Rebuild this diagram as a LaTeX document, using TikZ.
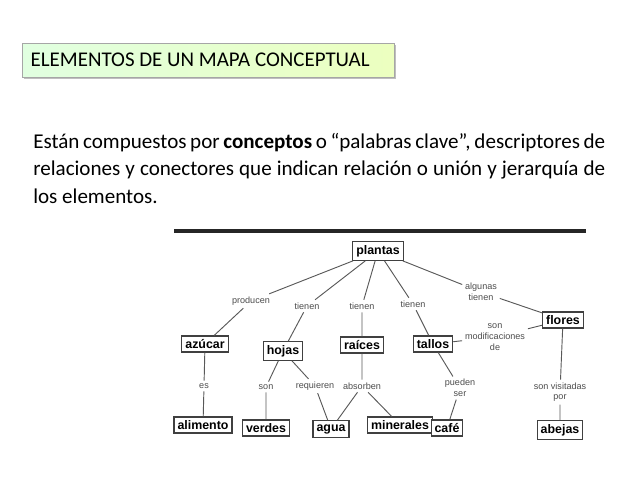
\documentclass[tikz,border=0pt]{standalone}
\usepackage{fontspec}
\setmainfont{Carlito}
\newfontfamily\mapfont{Liberation Sans}
\begin{document}
\begin{tikzpicture}[x=0.75pt,y=-0.75pt,
 concept/.style={draw=black!75,line width=0.9pt,fill=white,font=\mapfont\bfseries\fontsize{9.3}{11}\selectfont,inner sep=2.6pt},
 lbl/.style={font=\mapfont\fontsize{6.8}{8}\selectfont,text=black!70,align=center,inner sep=2pt},
 con/.style={draw=black!65,line width=0.7pt}]
\useasboundingbox (0,0) rectangle (638,479);
\fill[black!25] (24,45) rectangle (396,79);
\node[draw=black!35,left color=green!12!white,right color=green!30!yellow!25!white,minimum width=372*0.75pt,minimum height=34*0.75pt,anchor=north west,inner sep=0pt] (title) at (22,43) {};
\node[anchor=west,font=\fontsize{15.7}{18}\selectfont] (tt) at (26,60) {ELEMENTOS DE UN MAPA CONCEPTUAL};
\node[anchor=north west,text width=572*0.75pt,align=justify,inner sep=0pt,font=\fontsize{15.8}{20.5}\selectfont] (para) at (33,133)
 {\hyphenpenalty=10000\exhyphenpenalty=10000 Están compuestos por \textbf{conceptos} o “palabras clave”, descriptores de relaciones y conectores que indican relación o unión y jerarquía de los elementos.};
\coordinate (b1) at (174,231); \coordinate (b2) at (586,231);
\draw[line width=3pt,black!85] (b1) -- (b2);
% concepts
\node[concept] (pl) at (378,251) {plantas};
\node[concept] (az) at (205,344) {azúcar};
\node[concept] (ho) at (283,351) {hojas};
\node[concept] (ra) at (362,345) {raíces};
\node[concept] (ta) at (433,344) {tallos};
\node[concept] (fl) at (563,320) {flores};
\node[concept] (al) at (203,425) {alimento};
\node[concept] (ve) at (266,428) {verdes};
\node[concept] (ag) at (331,429) {agua};
\node[concept] (mi) at (400,425) {minerales};
\node[concept] (ca) at (447,428) {café};
\node[concept] (ab) at (560,430) {abejas};
% labels
\node[lbl] (l1) at (251,301) {producen};
\node[lbl] (l2) at (307,306) {tienen};
\node[lbl] (l3) at (362,306) {tienen};
\node[lbl] (l4) at (413,304) {tienen};
\node[lbl] (l5) at (481,292) {algunas\\tienen};
\node[lbl] (l6) at (495,337) {son\\modificaciones\\de};
\node[lbl] (l7) at (204,386) {es};
\node[lbl] (l8) at (266,387) {son};
\node[lbl] (l9) at (315,386) {requieren};
\node[lbl] (l10) at (362,386) {absorben};
\node[lbl] (l11) at (460,388) {pueden\\ser};
\node[lbl] (l12) at (560,392) {son visitadas\\por};
% connectors
\draw[con] (pl) -- (l1) -- (az);
\draw[con] (pl) -- (l2) -- (ho);
\draw[con] (pl) -- (l3) -- (ra);
\draw[con] (pl) -- (l4) -- (ta);
\draw[con] (pl) -- (l5) -- (fl);
\draw[con] (fl) -- (l6) -- (ta);
\draw[con] (az) -- (l7) -- (al);
\draw[con] (ho) -- (l8) -- (ve);
\draw[con] (ho) -- (l9) -- (ag);
\draw[con] (ra) -- (l10) -- (ag);
\draw[con] (l10) -- (mi);
\draw[con] (ta) -- (l11) -- (ca);
\draw[con] (fl) -- (l12) -- (ab);
\end{tikzpicture}
\end{document}
